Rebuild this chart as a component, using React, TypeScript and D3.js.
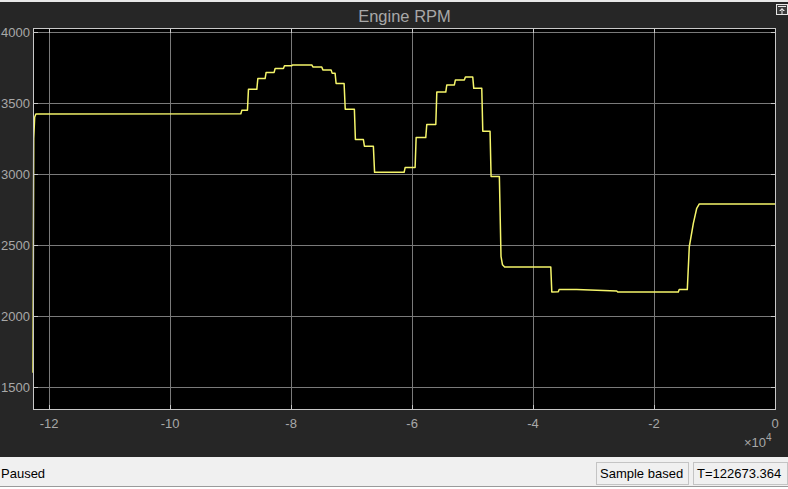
import React, { useRef, useEffect } from 'react';
import * as d3 from 'd3';

// time in units of 1e4 samples (axis shows x10^4), rpm values
const timeData: number[] = [
    -12.267, -12.255, -12.24, -12.22, -8.831, -8.815, -8.722, -8.705, -8.567, -8.55,
    -8.43, -8.413, -8.281, -8.264, -8.127, -8.11, -7.99, -7.975, -7.658, -7.64,
    -7.493, -7.475, -7.339, -7.322, -7.273, -7.256, -7.124, -7.105, -6.954, -6.937,
    -6.805, -6.788, -6.64, -6.62, -6.132, -6.115, -5.95, -5.933, -5.774, -5.757,
    -5.608, -5.591, -5.443, -5.426, -5.301, -5.284, -5.136, -5.119, -4.997, -4.98,
    -4.848, -4.831, -4.711, -4.694, -4.557, -4.53, -4.505, -4.47, -3.707, -3.69,
    -3.582, -3.57, -3.278, -2.617, -2.6, -1.598, -1.585, -1.45, -1.417, -1.35,
    -1.294, -1.251, 0,
];
const rpmData: number[] = [
    1600, 3250, 3400, 3422, 3424, 3448, 3448, 3596, 3596, 3672,
    3672, 3715, 3715, 3743, 3743, 3762, 3762, 3768, 3768, 3754,
    3754, 3733, 3733, 3710, 3710, 3637, 3637, 3455, 3455, 3242,
    3242, 3195, 3195, 3011, 3011, 3045, 3045, 3256, 3256, 3348,
    3348, 3577, 3577, 3627, 3627, 3662, 3662, 3682, 3682, 3603,
    3603, 3301, 3301, 2982, 2982, 2420, 2360, 2345, 2345, 2168,
    2170, 2185, 2185, 2175, 2168, 2168, 2185, 2185, 2487, 2652,
    2758, 2789, 2789,
];

const xTicks: number[] = [-12, -10, -8, -6, -4, -2, 0];
const yTicks: number[] = [1500, 2000, 2500, 3000, 3500, 4000];
const xDomain: [number, number] = [-12.2673, 0];
const yDomain: [number, number] = [1337, 4028];

const titleText = 'Engine RPM';
const statusText = 'Paused';
const modeText = 'Sample based';
const timeText = 'T=122673.364';

const FONT = '"Liberation Sans", Arial, sans-serif';

const App: React.FC = () => {
    const svgRef = useRef<SVGSVGElement | null>(null);

    useEffect(() => {
        const width = 788;
        const height = 489;
        const svg = d3.select(svgRef.current);
        svg.selectAll('*').remove();
        svg.attr('width', width).attr('height', height);

        // window background
        svg.append('rect').attr('width', width).attr('height', height).attr('fill', '#262626');
        svg.append('rect').attr('width', width).attr('height', 2).attr('fill', '#e8e8e8');

        const plot = { left: 33, right: 776, top: 28, bottom: 410 };

        const x = d3.scaleLinear().domain(xDomain).range([plot.left, plot.right - 1]);
        const y = d3.scaleLinear().domain(yDomain).range([plot.bottom, plot.top]);

        // title
        svg.append('text')
            .attr('x', (plot.left + plot.right) / 2)
            .attr('y', 22)
            .attr('text-anchor', 'middle')
            .attr('fill', '#a8a8a8')
            .style('font-family', FONT)
            .style('font-size', '16.5px')
            .text(titleText);

        // plot area
        svg.append('rect')
            .attr('x', plot.left)
            .attr('y', plot.top)
            .attr('width', plot.right - plot.left)
            .attr('height', plot.bottom - plot.top)
            .attr('fill', '#000000');

        // grid
        const grid = svg.append('g').attr('stroke', '#7a7a7a').attr('stroke-width', 1);
        xTicks.forEach(t => {
            const px = Math.round(x(t)) + 0.5;
            grid.append('line').attr('x1', px).attr('x2', px).attr('y1', plot.top).attr('y2', plot.bottom);
        });
        yTicks.forEach(t => {
            const py = Math.round(y(t)) + 0.5;
            grid.append('line').attr('x1', plot.left).attr('x2', plot.right).attr('y1', py).attr('y2', py);
        });

        // data line
        const points = timeData.map((t, i) => [t, rpmData[i]] as [number, number]);
        const line = d3.line<[number, number]>()
            .x(d => x(d[0]))
            .y(d => y(d[1]));
        svg.append('path')
            .datum(points)
            .attr('d', line)
            .attr('fill', 'none')
            .attr('stroke', '#f5f56a')
            .attr('stroke-width', 1.5)
            .attr('stroke-linejoin', 'round');

        // axes box + inward ticks
        const axisColor = '#c8c8c8';
        svg.append('rect')
            .attr('x', plot.left + 0.5)
            .attr('y', plot.top + 0.5)
            .attr('width', plot.right - plot.left - 1)
            .attr('height', plot.bottom - plot.top - 1)
            .attr('fill', 'none')
            .attr('stroke', axisColor);

        const ticks = svg.append('g').attr('stroke', axisColor);
        xTicks.forEach(t => {
            const px = Math.round(x(t)) + 0.5;
            ticks.append('line').attr('x1', px).attr('x2', px).attr('y1', plot.bottom).attr('y2', plot.bottom - 5);
            ticks.append('line').attr('x1', px).attr('x2', px).attr('y1', plot.top).attr('y2', plot.top + 5);
        });
        yTicks.forEach(t => {
            const py = Math.round(y(t)) + 0.5;
            ticks.append('line').attr('x1', plot.left).attr('x2', plot.left + 5).attr('y1', py).attr('y2', py);
            ticks.append('line').attr('x1', plot.right).attr('x2', plot.right - 5).attr('y1', py).attr('y2', py);
        });

        // tick labels
        const labelColor = '#a8a8a8';
        svg.append('g')
            .selectAll('text')
            .data(xTicks)
            .enter()
            .append('text')
            .attr('x', d => x(d))
            .attr('y', plot.bottom + 18)
            .attr('text-anchor', 'middle')
            .attr('fill', labelColor)
            .style('font-family', FONT)
            .style('font-size', '13px')
            .text(d => (d < 0 ? '-' + Math.abs(d) : String(d)));

        svg.append('g')
            .selectAll('text')
            .data(yTicks)
            .enter()
            .append('text')
            .attr('x', plot.left - 3)
            .attr('y', d => y(d) + 5)
            .attr('text-anchor', 'end')
            .attr('fill', labelColor)
            .style('font-family', FONT)
            .style('font-size', '13px')
            .text(d => String(d));

        // exponent label
        const expo = svg.append('text')
            .attr('x', 744)
            .attr('y', 447)
            .attr('fill', labelColor)
            .style('font-family', FONT)
            .style('font-size', '13px');
        expo.append('tspan').text('\u00d7');
        expo.append('tspan').text('10');
        expo.append('tspan').attr('dy', -6).style('font-size', '10px').text('4');

        // undock icon, top right
        svg.append('rect')
            .attr('x', 776.5).attr('y', 4.5).attr('width', 11).attr('height', 10)
            .attr('fill', '#3a3a3a').attr('stroke', '#e6e6e6');
        svg.append('line')
            .attr('x1', 778).attr('x2', 786).attr('y1', 6.5).attr('y2', 6.5)
            .attr('stroke', '#e6e6e6');
        svg.append('path')
            .attr('d', 'M779,11 L782,8 L785,11 Z M781.5,10 L781.5,14 L782.5,14 L782.5,10 Z')
            .attr('fill', '#e6e6e6');

        // status bar
        svg.append('rect').attr('x', 0).attr('y', 457).attr('width', width).attr('height', 32).attr('fill', '#f0f0f0');
        svg.append('line').attr('x1', 0).attr('x2', width).attr('y1', 486.5).attr('y2', 486.5).attr('stroke', '#9a9a9a');
        svg.append('rect').attr('x', 0).attr('y', 487).attr('width', width).attr('height', 2).attr('fill', '#ffffff');

        svg.append('text')
            .attr('x', 1)
            .attr('y', 478)
            .attr('fill', '#000000')
            .style('font-family', FONT)
            .style('font-size', '13px')
            .text(statusText);

        const boxes = [
            { x0: 596, x1: 689, label: modeText },
            { x0: 693, x1: 788, label: timeText },
        ];
        boxes.forEach(b => {
            svg.append('rect')
                .attr('x', b.x0 + 0.5).attr('y', 462.5)
                .attr('width', b.x1 - b.x0 - 1).attr('height', 22)
                .attr('fill', '#f0f0f0').attr('stroke', '#c4c4c4');
            svg.append('text')
                .attr('x', b.x0 + 4)
                .attr('y', 478)
                .attr('fill', '#000000')
                .style('font-family', FONT)
                .style('font-size', '13px')
                .text(b.label);
        });
    }, []);

    return (
        <svg ref={svgRef} style={{ position: 'absolute', left: 0, top: 0, display: 'block' }}></svg>
    );
};

export default App;
